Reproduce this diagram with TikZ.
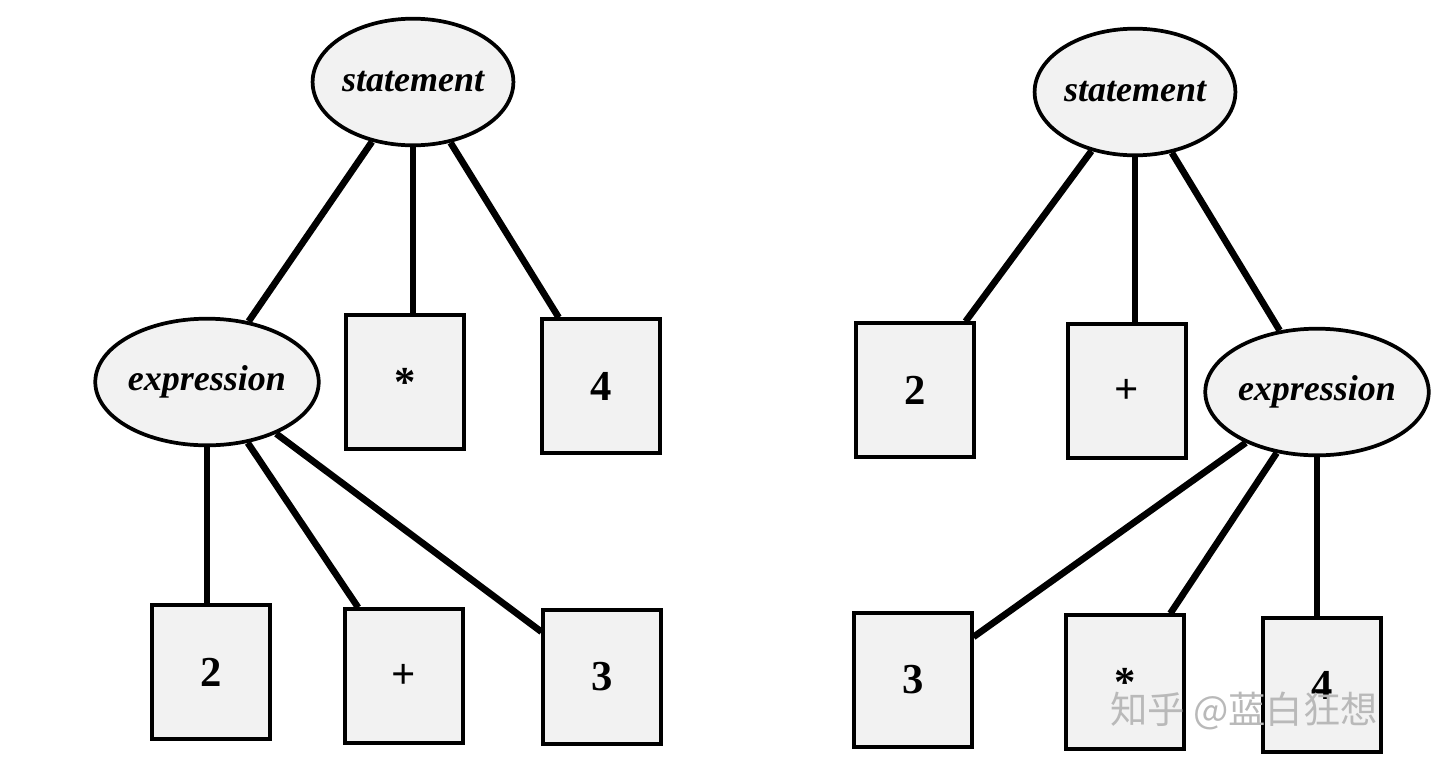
\documentclass[tikz,border=0pt]{standalone}
\usepackage{fontspec}
\setmainfont{Liberation Serif}
\newfontfamily\cjk{Noto Sans CJK SC}
\usetikzlibrary{shapes.geometric}
\begin{document}
\begin{tikzpicture}[x=0.75pt,y=-0.75pt,
  nt/.style={ellipse,draw,line width=2.8pt,fill=gray!10,minimum width=150pt,minimum height=95pt,inner sep=0pt,font=\fontsize{27}{30}\selectfont\bfseries\itshape},
  tm/.style={rectangle,draw,line width=2.8pt,fill=gray!10,minimum width=88pt,minimum height=100pt,inner sep=0pt,font=\fontsize{32}{36}\selectfont\bfseries},
  ed/.style={line width=5pt}]
\useasboundingbox (0,0) rectangle (1438,772);
\fill[white] (0,0) rectangle (1438,772);
% left tree
\node[nt] (s1) at (413,82) {statement};
\node[nt] (e1) at (207,382) {expression};
\node[tm] (m1) at (405,382) {*};
\node[tm] (f1) at (601,386) {4};
\node[tm] (t1) at (211,672) {2};
\node[tm] (p1) at (404,676) {+};
\node[tm] (h1) at (602,677) {3};
\draw[ed] (s1) -- (e1);
\draw[ed] (s1.south) -- (s1.south |- m1.north);
\draw[ed] (s1) -- (f1);
\draw[ed] (e1.south) -- (e1.south |- t1.north);
\draw[ed] (e1) -- (p1);
\draw[ed] (e1) -- (h1);
% right tree
\node[nt] (s2) at (1135,92) {statement};
\node[tm] (t2) at (915,390) {2};
\node[tm] (p2) at (1127,391) {+};
\node[nt,minimum width=145pt] (e2) at (1317,392) {expression};
\node[tm] (h2) at (913,680) {3};
\node[tm] (m2) at (1125,682) {*};
\node[tm] (f2) at (1322,685) {4};
\draw[ed] (s2) -- (t2);
\draw[ed] (s2.south) -- (s2.south |- p2.north);
\draw[ed] (s2) -- (e2);
\draw[ed] (e2) -- (h2);
\draw[ed] (e2) -- (m2);
\draw[ed] (e2.south) -- (e2.south |- f2.north);
\node[font=\cjk\fontsize{28}{30}\selectfont,text=gray!55] (wm) at (1244,711) {知乎 @蓝白狂想};
\end{tikzpicture}
\end{document}
